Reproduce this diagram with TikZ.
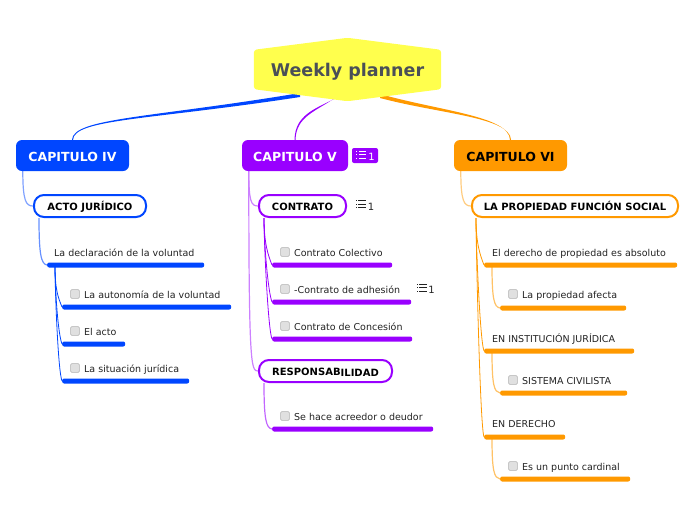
\documentclass[tikz,border=0pt]{standalone}
\usepackage{fontspec}
\setmainfont{DejaVu Sans}
\usetikzlibrary{backgrounds}
\definecolor{mblue}{HTML}{0046FF}
\definecolor{mpurple}{HTML}{9900FF}
\definecolor{morange}{HTML}{FF9900}
\definecolor{myellow}{HTML}{FFFF4D}
\definecolor{mtitle}{HTML}{4A4F57}
\definecolor{mink}{HTML}{222222}
\tikzset{
	chapter/.style={rounded corners=6pt,minimum height=31pt,inner sep=0pt,text height=11pt,text depth=0pt,font=\fontsize{12.5}{14}\bfseries\selectfont},
	pill/.style={draw,fill=white,line width=2pt,rounded corners=10pt,minimum height=22pt,inner sep=0pt,text height=9.3pt,text depth=0pt,font=\fontsize{10}{12}\bfseries\selectfont,text=black},
	leaf/.style={anchor=west,inner sep=0pt,text height=10pt,text depth=2pt,text=mink,font=\fontsize{9.5}{12}\selectfont},
	bar/.style={anchor=west,rounded corners=2pt,minimum height=5pt,inner sep=0pt},
	checkbox/.style={draw=black!22,fill=black!12,line width=.8pt,rounded corners=1.5pt,minimum size=9pt,inner sep=0pt},
	link/.style={line width=.8pt},
	softlink/.style={line width=1.2pt}
}
\newcommand{\listicon}[2]{
	\begin{scope}[shift={(#1)},#2]
		\foreach \ly in {-4,-0.5,3}{
			\fill (0,\ly) rectangle (1.4,\ly+1);
			\fill (2.8,\ly) rectangle (10,\ly+1);
		}
	\end{scope}
}

\begin{document}
\begin{tikzpicture}[x=1pt,y=-1pt]
	\useasboundingbox (0,0) rectangle (696,520);
	% nodes
	\node[minimum width=187pt,minimum height=63pt,inner sep=0pt,text depth=0pt,text=mtitle,font=\fontsize{17.5}{22}\bfseries\selectfont] (main) at (347.5,69.5) {Weekly planner};
	\coordinate (mainblue) at (300,95);
	\coordinate (mainpurple) at (335,98);
	\coordinate (mainorange) at (380,96);

	% capitulo iv
	\node[chapter,fill=mblue,text=white,minimum width=113pt] (capiv) at (72.5,155.5) {CAPITULO IV};
	\node[pill,draw=mblue,minimum width=112pt] (acto) at (90,206) {ACTO JURÍDICO};
	\node[leaf] (decl) at (54,252) {La declaración de la voluntad};
	\node[bar,fill=mblue,minimum width=157pt] (declbar) at (47,265) {};
	\node[checkbox] (autocheck) at (75,294) {};
	\node[leaf] (auto) at (84,294) {La autonomía de la voluntad};
	\node[bar,fill=mblue,minimum width=169pt] (autobar) at (62,307) {};
	\node[checkbox] (actocheck) at (75,331) {};
	\node[leaf] (elacto) at (84,331) {El acto};
	\node[bar,fill=mblue,minimum width=63pt] (elactobar) at (62,344) {};
	\node[checkbox] (sitcheck) at (75,368) {};
	\node[leaf] (sit) at (84,368) {La situación jurídica};
	\node[bar,fill=mblue,minimum width=127pt] (sitbar) at (62,381) {};

	% capitulo v
	\node[chapter,fill=mpurple,text=white,minimum width=106pt] (capv) at (295,155.5) {CAPITULO V};
	\node[fill=mpurple,rounded corners=2pt,minimum width=26pt,minimum height=15pt,inner sep=0pt] (badge) at (365,155.5) {};
	\listicon{356,154.5}{color=white}
	\node[inner sep=0pt,text=white,font=\fontsize{10}{12}\selectfont] (badgenum) at (371.5,156.5) {1};
	\node[pill,draw=mpurple,minimum width=87pt] (contrato) at (302.5,206) {CONTRATO};
	\listicon{355.5,204}{color=mink}
	\node[inner sep=0pt,text=mink,font=\fontsize{10}{12}\selectfont] (contratonum) at (371,206.5) {1};
	\node[checkbox] (colcheck) at (285,252) {};
	\node[leaf] (col) at (294,252) {Contrato Colectivo};
	\node[bar,fill=mpurple,minimum width=120pt] (colbar) at (272,265) {};
	\node[checkbox] (adhcheck) at (285,289) {};
	\node[leaf] (adh) at (294,289) {-Contrato de adhesión};
	\node[bar,fill=mpurple,minimum width=139pt] (adhbar) at (272,302) {};
	\listicon{416.5,287.5}{color=mink}
	\node[inner sep=0pt,text=mink,font=\fontsize{10}{12}\selectfont] (adhnum) at (431.5,290) {1};
	\node[checkbox] (concheck) at (285,326) {};
	\node[leaf] (con) at (294,326) {Contrato de Concesión};
	\node[bar,fill=mpurple,minimum width=140pt] (conbar) at (272,339) {};
	\node[pill,draw=mpurple,minimum width=133pt] (resp) at (325.5,371) {RESPONSAB\raisebox{-.7pt}{ILIDAD}};
	\node[checkbox] (acrcheck) at (285,416) {};
	\node[leaf] (acr) at (294,416) {Se hace acreedor o deudor};
	\node[bar,fill=mpurple,minimum width=161pt] (acrbar) at (272,429) {};

	% capitulo vi
	\node[chapter,fill=morange,text=black,minimum width=113pt] (capvi) at (510.5,155.5) {CAPITULO VI};
	\node[pill,draw=morange,minimum width=206pt] (prop) at (575,206) {LA PROPIEDAD FUNCIÓN SOCIAL};
	\node[leaf] (der) at (492,252) {El derecho de propiedad es absoluto};
	\node[bar,fill=morange,minimum width=193pt] (derbar) at (484,265) {};
	\node[checkbox] (afecheck) at (513,294) {};
	\node[leaf] (afe) at (522,294) {La propiedad afecta};
	\node[bar,fill=morange,minimum width=126pt] (afebar) at (500,308) {};
	\node[leaf] (inst) at (492,338) {EN INSTITUCIÓN JURÍDICA};
	\node[bar,fill=morange,minimum width=150pt] (instbar) at (484,351) {};
	\node[checkbox] (sischeck) at (513,380) {};
	\node[leaf] (sis) at (522,380) {SISTEMA CIVILISTA};
	\node[bar,fill=morange,minimum width=127pt] (sisbar) at (500,393) {};
	\node[leaf] (endr) at (492,423) {EN DERECHO};
	\node[bar,fill=morange,minimum width=81pt] (endrbar) at (484,437) {};
	\node[checkbox] (puncheck) at (513,466) {};
	\node[leaf] (pun) at (522,466) {Es un punto cardinal};
	\node[bar,fill=morange,minimum width=130pt] (punbar) at (500,479) {};

	% connectors
	\begin{scope}[on background layer]
		\fill[mblue] ([xshift=-.5pt]capiv.north) .. controls (73,118) and (150,118) .. ([yshift=2pt]mainblue) -- ([yshift=-2pt]mainblue) .. controls (150,120) and (74,119) .. ([xshift=.5pt]capiv.north) -- cycle;
		\fill[mpurple] ([xshift=-.5pt]capv.north) .. controls (295,115) and (315,109) .. ([xshift=-2pt,yshift=-1.5pt]mainpurple) -- ([xshift=2pt,yshift=1.5pt]mainpurple) .. controls (317,111) and (296,116) .. ([xshift=.5pt]capv.north) -- cycle;
		\fill[morange] ([xshift=-.5pt]capvi.north) .. controls (509,116) and (440,111) .. ([yshift=2pt]mainorange) -- ([yshift=-2pt]mainorange) .. controls (440,114) and (510,117) .. ([xshift=.5pt]capvi.north) -- cycle;
		\fill[myellow,rounded corners=3pt] ([yshift=-12pt]main.north west) -- (main.north) -- ([yshift=-12pt]main.north east) -- ([yshift=12pt]main.south east) -- (main.south) -- ([yshift=12pt]main.south west) -- cycle;

		\draw[softlink,mblue!50] ([xshift=7pt]capiv.south west) .. controls +(0,30) and +(-7,0) .. (acto.west);
		\draw[softlink,mblue!60] ([xshift=6pt]acto.south west) .. controls +(0,36) and +(-6,-1) .. (declbar.west);
		\foreach \leafbar in {autobar,elactobar,sitbar}
			\draw[link,mblue] ([xshift=8pt]declbar.west) .. controls +(0,25) and +(-4,-10) .. (\leafbar.west);

		\draw[softlink,mpurple!50] ([xshift=7pt]capv.south west) .. controls +(0,30) and +(-7,0) .. (contrato.west);
		\draw[softlink,mpurple!50] ([xshift=7pt]capv.south west) .. controls +(0,195) and +(-7,0) .. (resp.west);
		\foreach \leafbar in {colbar,adhbar,conbar}
			\draw[link,mpurple] ([xshift=6pt]contrato.south west) .. controls +(0,25) and +(-4,-10) .. (\leafbar.west);
		\draw[softlink,mpurple!60] ([xshift=6pt]resp.south west) .. controls +(0,36) and +(-6,-1) .. (acrbar.west);

		\draw[softlink,morange!50] ([xshift=7pt]capvi.south west) .. controls +(0,30) and +(-7,0) .. (prop.west);
		\foreach \leafbar in {derbar,instbar,endrbar}
			\draw[link,morange] ([xshift=5pt]prop.south west) .. controls +(0,25) and +(-4,-10) .. (\leafbar.west);
		\draw[softlink,morange!60] ([xshift=8pt]derbar.west) .. controls +(0,34) and +(-6,-1) .. (afebar.west);
		\draw[softlink,morange!60] ([xshift=8pt]instbar.west) .. controls +(0,34) and +(-6,-1) .. (sisbar.west);
		\draw[softlink,morange!60] ([xshift=8pt]endrbar.west) .. controls +(0,34) and +(-6,-1) .. (punbar.west);
	\end{scope}
\end{tikzpicture}
\end{document}
